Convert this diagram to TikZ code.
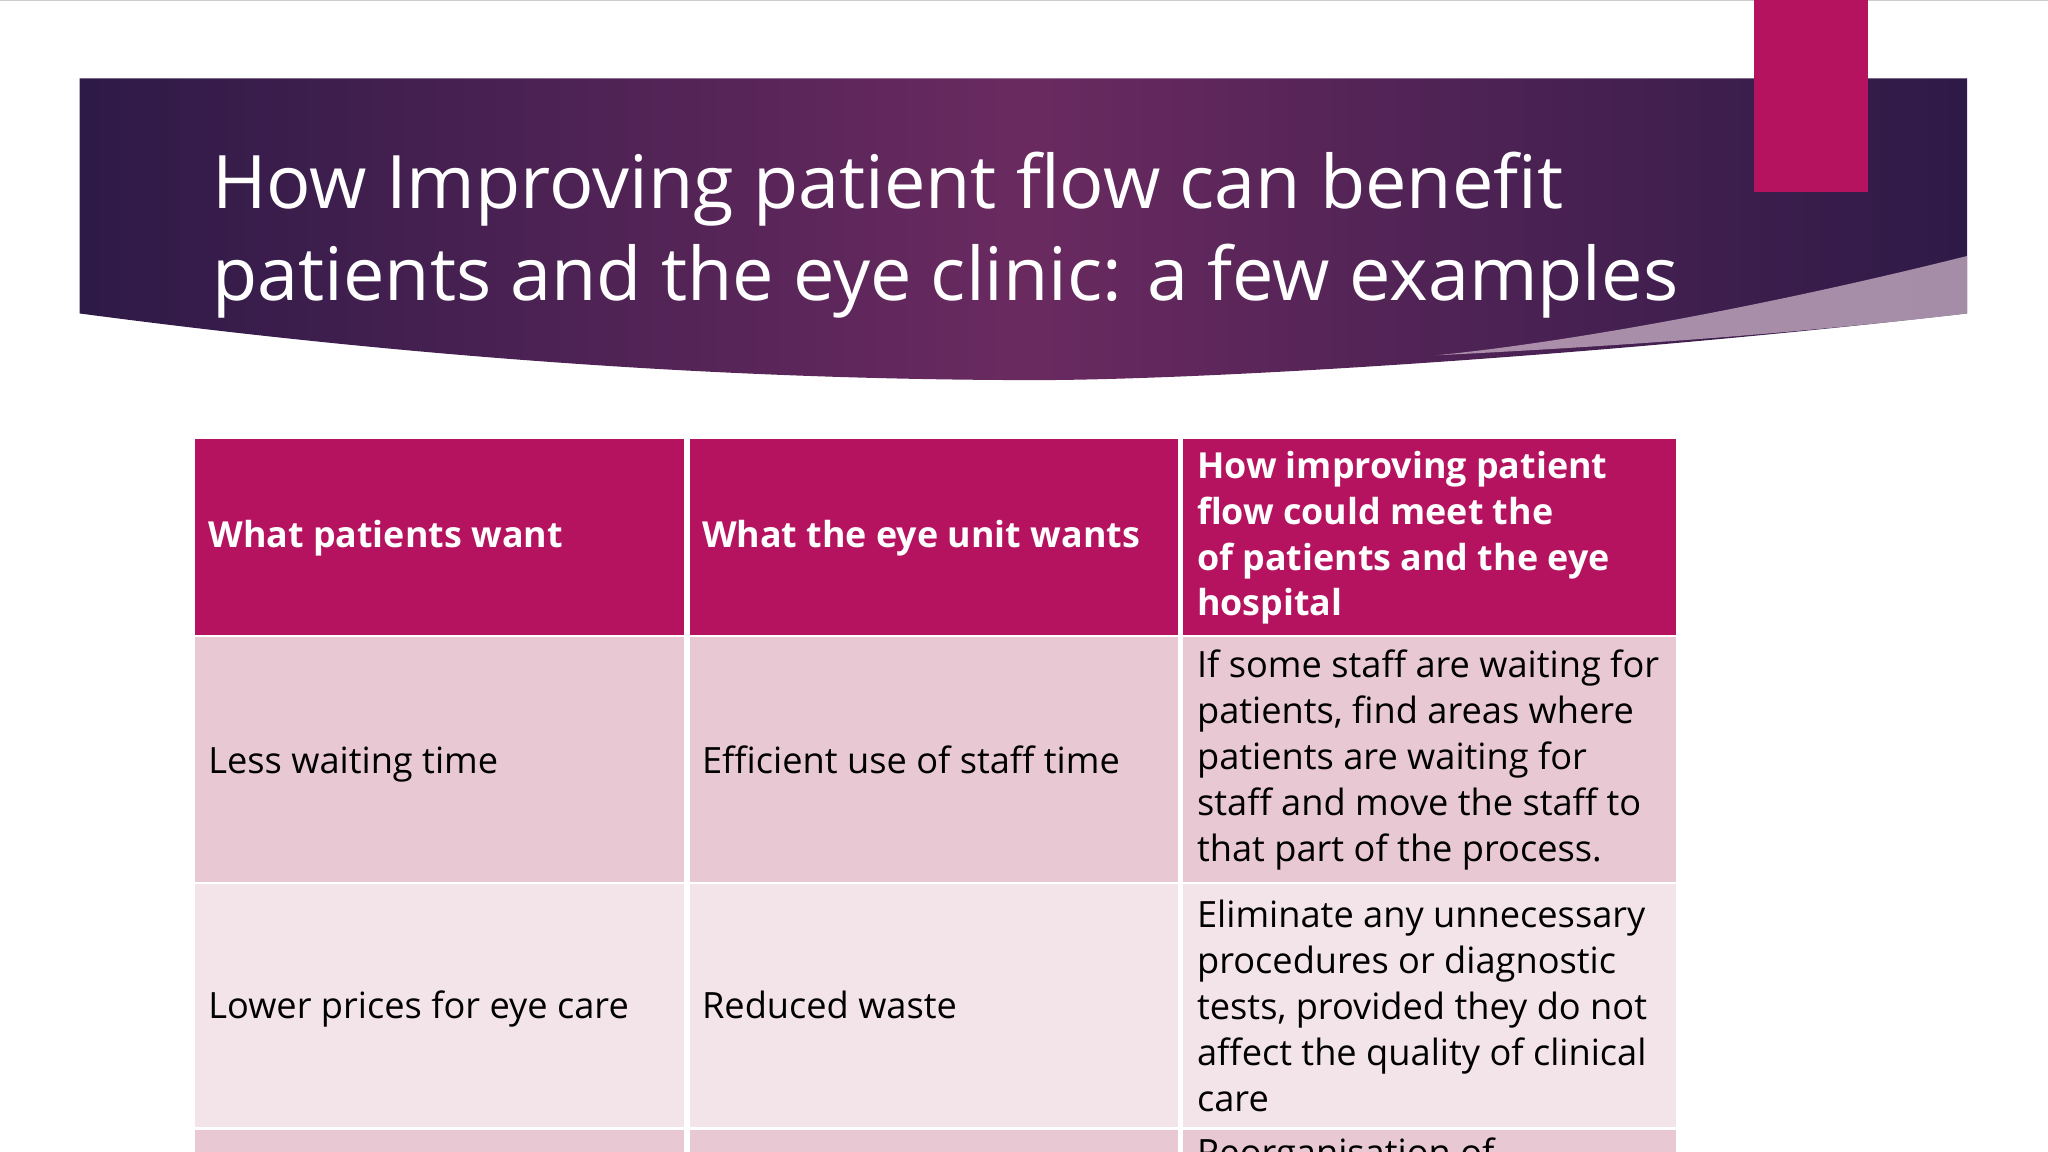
\documentclass[tikz,border=0pt]{standalone}
\usepackage{fontspec}
\setmainfont{Open Sans}
\usetikzlibrary{positioning}
\definecolor{plum}{HTML}{2E1A47}
\definecolor{wine}{HTML}{6A2A60}
\definecolor{magenta}{HTML}{B5135F}
\definecolor{rowA}{HTML}{E8C9D3}
\definecolor{rowB}{HTML}{F3E4EA}
\tikzset{
  cell/.style={anchor=west, align=left, font=\fontsize{10.3}{13.1}\selectfont, inner sep=0pt},
  line/.style={anchor=base west, font=\fontsize{10.3}{13.1}\selectfont, inner sep=0pt},
  head/.style={cell, text=white, font=\fontsize{10.2}{13}\selectfont\bfseries},
  titletext/.style={anchor=base west, text=white, inner sep=0pt, font=\fontsize{21}{24}\selectfont},
}
\begin{document}
\begin{tikzpicture}[x=0.013061cm,y=-0.013061cm]
\useasboundingbox (0,0) rectangle (1568,882);
\fill[white] (0,0) rectangle (1568,882);
\draw[gray!40] (0,0.5) -- (1568,0.5);

% banner
\shade[left color=plum, right color=plum, middle color=wine]
  (61,60) -- (1506,60) -- (1506,240) .. controls (1200,275) and (900,292) .. (780,291)
  .. controls (500,290) and (250,265) .. (61,240) -- cycle;
\fill[white!60!wine, opacity=.8] (1506,196) .. controls (1350,235) and (1200,262) .. (1100,272)
  .. controls (1300,262) and (1420,250) .. (1506,240) -- cycle;
\fill[magenta] (1343,0) rectangle (1430,147);

\node[titletext] (title) at (162,160) {How Improving patient flow can benefit};
\node[titletext] (title2) at (162,230) {patients and the eye clinic: a few examples};

% table
\begin{scope}
\clip (0,0) rectangle (1568,882);
\fill[magenta] (149,336) rectangle (1283,486);
\fill[rowA] (149,488) rectangle (1283,675);
\fill[rowB] (149,677) rectangle (1283,863);
\fill[rowA] (149,865) rectangle (1283,900);
\foreach \x in {526,904} {
  \draw[white, line width=1.5pt] (\x,336) -- (\x,900);
}
\node[cell] (r3c3) at (916,885) {Reorganisation of};
\end{scope}

\node[head] (h1) at (159,412) {What patients want};
\node[head] (h2) at (537,412) {What the eye unit wants};
\node[head] (h3) at (916,412) {How improving patient\\flow could meet the\\of patients and the eye\\hospital};

\node[line] (r1c1) at (159,592) {Less waiting time};
\node[line] (r1c2) at (537,592) {Efficient use of staff time};
\node[cell] (r1c3) at (916,582) {If some staff are waiting for\\patients, find areas where\\patients are waiting for\\staff and move the staff to\\that part of the process.};

\node[line] (r2c1) at (159,780) {Lower prices for eye care};
\node[line] (r2c2) at (537,780) {Reduced waste};
\node[cell] (r2c3) at (916,770) {Eliminate any unnecessary\\procedures or diagnostic\\tests, provided they do not\\affect the quality of clinical\\care};
\end{tikzpicture}
\end{document}
